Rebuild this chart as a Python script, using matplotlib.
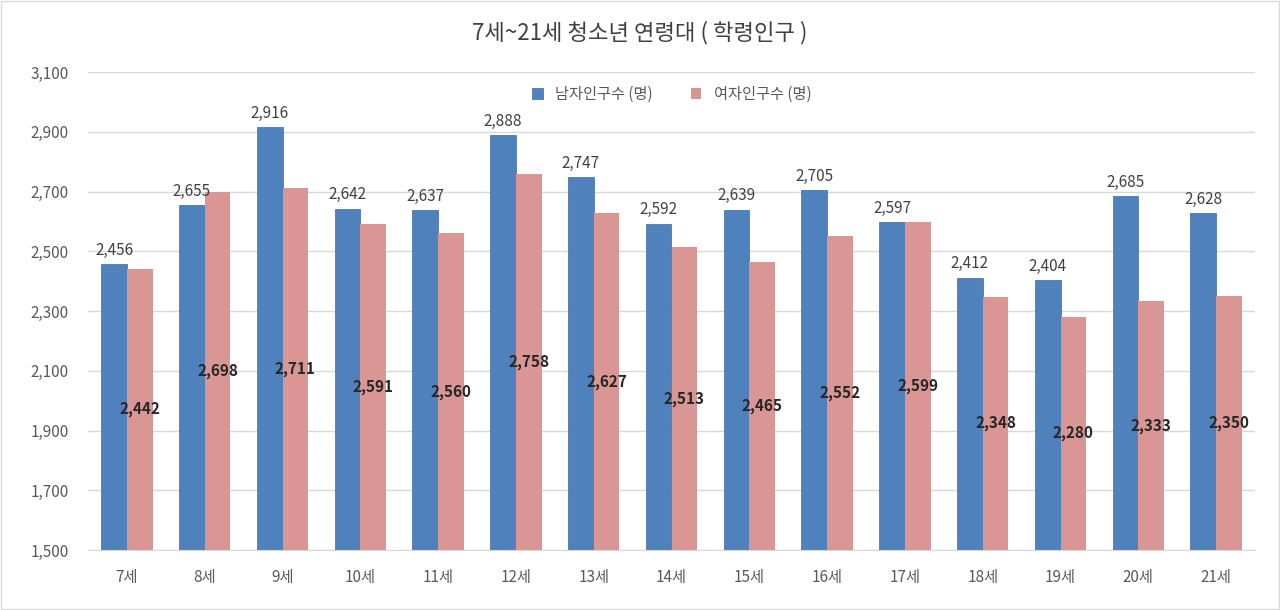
import matplotlib.pyplot as plt
import numpy as np

plt.rcParams['font.family'] = 'Noto Sans CJK KR'

ages = ['7세', '8세', '9세', '10세', '11세', '12세', '13세', '14세', '15세',
        '16세', '17세', '18세', '19세', '20세', '21세']
male = [2456, 2655, 2916, 2642, 2637, 2888, 2747, 2592, 2639, 2705, 2597, 2412, 2404, 2685, 2628]
female = [2442, 2698, 2711, 2591, 2560, 2758, 2627, 2513, 2465, 2552, 2599, 2348, 2280, 2333, 2350]

fig = plt.figure(figsize=(12.8, 6.1), dpi=100)
ax = fig.add_axes([88/1280, 60/610, (1255-88)/1280, (550-72)/610])
fig.patches.append(plt.Rectangle((0.001, 0.002), 0.998, 0.996, transform=fig.transFigure,
                                 fill=False, edgecolor='#d9d9d9', lw=1))

x = np.arange(len(ages))
w = 0.33
ax.bar(x - w/2, male, w, bottom=0, color='#4F81BD', edgecolor='#3c6a9f', lw=0.5,
       label='남자인구수 (명)', zorder=2)
ax.bar(x + w/2, female, w, color='#D99694', label='여자인구수 (명)', zorder=2)

for i in range(len(ages)):
    ax.text(x[i] - w/2, male[i] + 18, f'{male[i]:,}', ha='center', va='bottom',
            fontsize=11, color='#404040')
    ax.text(x[i] + w/2, (1500 + female[i]) / 2, f'{female[i]:,}', ha='center', va='center',
            fontsize=11, fontweight='bold', color='#262626', zorder=3)

ax.set_ylim(1500, 3100)
ax.set_yticks(range(1500, 3101, 200))
ax.set_yticklabels([f'{v:,}' for v in range(1500, 3101, 200)])
ax.set_xlim(-0.5, len(ages) - 0.5)
ax.set_xticks(x)
ax.set_xticklabels(ages)
ax.tick_params(length=0, labelsize=11, colors='#595959', pad=14)
ax.grid(axis='y', color='#d9d9d9', lw=1, zorder=0)
for s in ['top', 'right', 'left']:
    ax.spines[s].set_visible(False)
ax.spines['bottom'].set_color('#d9d9d9')

ax.legend(loc='upper center', bbox_to_anchor=(0.5, 1.0), ncol=2, frameon=False,
          fontsize=11, handlelength=0.7, handleheight=0.7, columnspacing=2.5,
          labelcolor='#595959')
fig.text(0.5, 0.935, '7세~21세 청소년 연령대 ( 학령인구 )', ha='center', fontsize=16, color='#404040')

fig.savefig('out.png')
